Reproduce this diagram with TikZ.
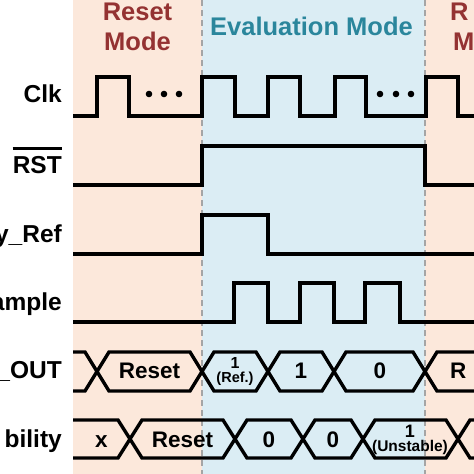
\documentclass[tikz,border=0pt]{standalone}
\usepackage{fontspec}
\setmainfont{Liberation Sans}
\usetikzlibrary{positioning}

\definecolor{resetbg}{RGB}{252,232,219}
\definecolor{evalbg}{RGB}{219,237,244}
\definecolor{resettxt}{RGB}{148,50,50}
\definecolor{evaltxt}{RGB}{42,134,156}
\definecolor{modeline}{RGB}{165,165,165}

\begin{document}
\begin{tikzpicture}[x=1pt, y=-1pt,
		wave/.style={line width=3.4pt, black},
		siglabel/.style={anchor=base east, inner sep=0pt, font=\fontsize{24.5}{28}\selectfont\bfseries},
		modelabel/.style={inner sep=0pt, align=center, font=\fontsize{25.5}{30}\selectfont\bfseries},
		bustext/.style={anchor=base, inner sep=0pt, font=\fontsize{22.5}{24}\selectfont\bfseries}]

		\useasboundingbox (0,0) rectangle (474,474);
		\clip (0,0) rectangle (474,474);

		\def\xA{73}   % start of the waves
		\def\xB{202}  % reset -> evaluation
		\def\xC{425}  % evaluation -> reset
		\def\xE{480}  % past the right edge
		\def\hw{12}   % half width of a bus crossing

		% Mode backgrounds
		\fill[resetbg] (\xA,0) rectangle (\xB,474);
		\fill[evalbg] (\xB,0) rectangle (\xC,474);
		\fill[resetbg] (\xC,0) rectangle (474,474);
		\foreach \xm in {\xB,\xC}
			\draw[modeline, line width=2.6pt, dash pattern=on 6pt off 4pt] (\xm,0) -- (\xm,474);

		% Mode titles
		\node[modelabel, text=resettxt] (modeResetA) at (137.5,27) {Reset\\Mode};
		\node[modelabel, text=evaltxt] (modeEval) at (311.5,26.5) {Evaluation Mode};
		\node[modelabel, text=resettxt, anchor=base west] (modeResetB) at (450,20) {R};
		\node[modelabel, text=resettxt, anchor=base west] (modeResetC) at (453,50) {M};

		% Signal names
		\node[siglabel] (lblClk) at (62,102) {Clk};
		\node[siglabel] (lblRst) at (62,173) {RST};
		\draw[line width=2.6pt] ([yshift=7pt]lblRst.north west) -- ([yshift=7pt]lblRst.north east);
		\node[siglabel] (lblRef) at (62,242) {y\_Ref};
		\node[siglabel] (lblSmp) at (62,310) {ample};
		\node[siglabel] (lblOut) at (62,378) {\_OUT};
		\node[siglabel] (lblStb) at (62,447) {bility};

		% Clk
		\def\hiClk{77} \def\loClk{116}
		\draw[wave] (\xA,\loClk) foreach \a/\b in {97/129, 202/235, 268/300, 335/366, 426/458} {
			-- (\a,\loClk) -- (\a,\hiClk) -- (\b,\hiClk) -- (\b,\loClk) } -- (\xE,\loClk);
		\foreach \d in {149,164,179,380,396,411}
			\fill (\d,94) circle (3.3pt);

		% RST and the reference delay
		\draw[wave] (\xA,185) -- (\xB,185) -- (\xB,146) -- (\xC,146) -- (\xC,185) -- (\xE,185);
		\draw[wave] (\xA,254) -- (\xB,254) -- (\xB,215) -- (268,215) -- (268,254) -- (\xE,254);

		% Sample
		\draw[wave] (\xA,322) foreach \a/\b in {234/268, 300/334, 365/400} {
			-- (\a,322) -- (\a,283) -- (\b,283) -- (\b,322) } -- (\xE,322);

		% OUT bus
		\def\tB{352} \def\mB{371.5} \def\bB{391}
		\draw[wave] (\xA,\tB) -- (97-\hw,\tB) -- (97,\mB) -- (97-\hw,\bB) -- (\xA,\bB);
		\foreach \a/\b in {97/202, 202/268, 268/334, 334/\xC, \xC/560}
			\draw[wave] (\a,\mB) -- (\a+\hw,\tB) -- (\b-\hw,\tB) -- (\b,\mB) -- (\b-\hw,\bB) -- (\a+\hw,\bB) -- cycle;
		\node[bustext] (outReset) at (149.5,378) {Reset};
		\node[bustext, font=\fontsize{16}{18}\selectfont\bfseries] (outRefA) at (235,368) {1};
		\node[font=\fontsize{14.5}{16}\selectfont\bfseries, inner sep=0pt, below=4pt of outRefA] (outRefB) {(Ref.)};
		\node[bustext] (outOne) at (301,378) {1};
		\node[bustext] (outZero) at (380,378) {0};
		\node[bustext, anchor=base west] (outResetB) at (450,378) {R};

		% Stability bus
		\def\tS{420} \def\mS{439} \def\bS{458}
		\draw[wave] (\xA,\tS) -- (130-\hw,\tS) -- (130,\mS) -- (130-\hw,\bS) -- (\xA,\bS);
		\foreach \a/\b in {130/235, 235/303, 303/363, 363/458, 458/560}
			\draw[wave] (\a,\mS) -- (\a+\hw,\tS) -- (\b-\hw,\tS) -- (\b,\mS) -- (\b-\hw,\bS) -- (\a+\hw,\bS) -- cycle;
		\node[bustext] (stbX) at (101.5,447) {x};
		\node[bustext] (stbReset) at (182.5,447) {Reset};
		\node[bustext] (stbZeroA) at (269,447) {0};
		\node[bustext] (stbZeroB) at (333,447) {0};
		\node[bustext, font=\fontsize{18}{20}\selectfont\bfseries] (stbOneA) at (410,437) {1};
		\node[font=\fontsize{15.5}{17}\selectfont\bfseries, inner sep=0pt, below=3pt of stbOneA] (stbOneB) {(Unstable)};

	\end{tikzpicture}
\end{document}
